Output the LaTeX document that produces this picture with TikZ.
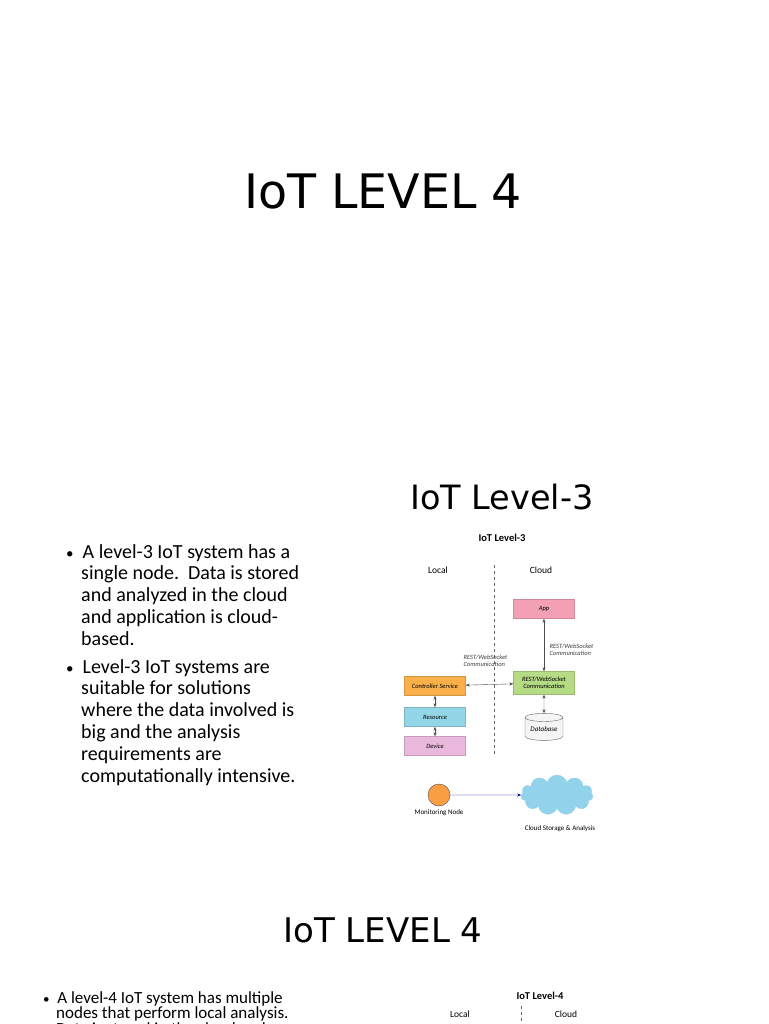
\documentclass[tikz,border=0pt]{standalone}
\usepackage{fontspec}
\setmainfont{DejaVu Sans}
\newfontfamily\calfont{Carlito}
\usetikzlibrary{shapes.geometric,shapes.symbols,arrows.meta}
\definecolor{apppink}{HTML}{F3A0B4}
\definecolor{restgreen}{HTML}{B5DC84}
\definecolor{ctrlorange}{HTML}{F9B04A}
\definecolor{rescyan}{HTML}{92D6E8}
\definecolor{devpink}{HTML}{E9B8DC}
\definecolor{cloudblue}{HTML}{92D2EA}
\newcommand{\mybul}{{\fontsize{15}{15}\selectfont\textbullet}}
\tikzset{
 box/.style={draw=#1!85!black,fill=#1,minimum width=61pt,minimum height=19pt,inner sep=0pt,font=\calfont\itshape\fontsize{6.5}{7.5}\selectfont},
 lbl/.style={font=\calfont\itshape\fontsize{6.5}{7.5}\selectfont,align=left,text=black!75},
 bul/.style={font=\calfont\fontsize{20}{21.8}\selectfont,align=left,anchor=north west,inner sep=0pt},
 darr/.style={{Stealth[length=4pt,width=3pt]}-{Stealth[length=4pt,width=3pt]},black!70},
}
\begin{document}
\begin{tikzpicture}[x=1pt,y=-1pt]
\useasboundingbox (0,0) rectangle (768,1024);
\clip (0,0) rectangle (768,1024);
\fill[white] (0,0) rectangle (768,1024);
\node (t1) at (383,192) {\fontsize{47.5}{50}\selectfont IoT LEVEL 4};
\node (t2) at (502,497) {\fontsize{33.5}{36}\selectfont IoT Level-3};
\node[bul] (b1) at (66,544) {\mybul\ \ A level-3 IoT system has a\\\hspace*{15pt}single node.\ \ Data is stored\\\hspace*{15pt}and analyzed in the cloud\\\hspace*{15pt}and application is cloud-\\\hspace*{15pt}based.};
\node[bul] (b2) at (66,659) {\mybul\ \ Level-3 IoT systems are\\\hspace*{15pt}suitable for solutions\\\hspace*{15pt}where the data involved is\\\hspace*{15pt}big and the analysis\\\hspace*{15pt}requirements are\\\hspace*{15pt}computationally intensive.};
% diagram
\node (dt) at (502,538) {\calfont\bfseries\fontsize{10.5}{12}\selectfont IoT Level-3};
\node (loc) at (438,570) {\calfont\fontsize{9.5}{11}\selectfont Local};
\node (cld) at (541,570) {\calfont\fontsize{9.5}{11}\selectfont Cloud};
\coordinate (d1) at (494,565); \coordinate (d2) at (494,757);
\draw[dashed,black!60] (d1) -- (d2);
\node[box=apppink] (app) at (544,609) {App};
\node[box=restgreen,align=center,minimum height=23pt] (rest) at (544,683) {REST/WebSocket\\Communication};
\node[box=ctrlorange] (ctrl) at (435,686) {Controller Service};
\node[box=rescyan] (res) at (435,717) {Resource};
\node[box=devpink] (dev) at (435,746) {Device};
\node[cylinder,shape border rotate=90,draw=black!60,fill=black!4,minimum width=38pt,minimum height=27pt,aspect=0.3,inner sep=0pt,font=\calfont\itshape\fontsize{7}{8}\selectfont] (db) at (544,729) {Database};
\draw[darr] (app) -- (rest);
\draw[darr] (ctrl) -- (rest);
\draw[darr] (ctrl) -- (res);
\draw[darr] (res) -- (dev);
\draw[darr] (rest) -- (db);
\node[lbl,anchor=west] (l1) at (546,650) {REST/WebSocket\\Communication};
\node[lbl,anchor=west] (l2) at (460,661) {REST/WebSocket\\Communication};
\node[circle,draw=black!70,fill=ctrlorange!90!red,minimum size=22pt,inner sep=0] (mon) at (439,795) {};
\node[cloud,cloud puffs=11,aspect=1.8,fill=cloudblue,draw=cloudblue,minimum width=72pt,minimum height=40pt] (cl) at (557,795) {};
\draw[->,>={Stealth[length=4pt,width=3pt]},blue!60!black] (mon) -- (cl);
\node[font=\calfont\fontsize{7}{8}\selectfont] (ml) at (439,813) {Monitoring Node};
\node[font=\calfont\fontsize{7}{8}\selectfont] (cll) at (560,829) {Cloud Storage \& Analysis};
% second slide
\node (t3) at (383,930) {\fontsize{34}{36}\selectfont IoT LEVEL 4};
\node[bul,font=\calfont\fontsize{17}{15.5}\selectfont] (b3) at (43,991) {{\fontsize{13}{13}\selectfont\textbullet}\ \ A level-4 IoT system has multiple\\\hspace*{13pt}nodes that perform local analysis.\\\hspace*{13pt}Data is stored in the cloud and};
\node (dt4) at (540,996) {\calfont\bfseries\fontsize{10.5}{12}\selectfont IoT Level-4};
\node (loc4) at (460,1014) {\calfont\fontsize{9.5}{11}\selectfont Local};
\node (cld4) at (566,1014) {\calfont\fontsize{9.5}{11}\selectfont Cloud};
\coordinate (e1) at (521,1006); \coordinate (e2) at (521,1024);
\draw[dashed,black!60] (e1) -- (e2);
\end{tikzpicture}
\end{document}
